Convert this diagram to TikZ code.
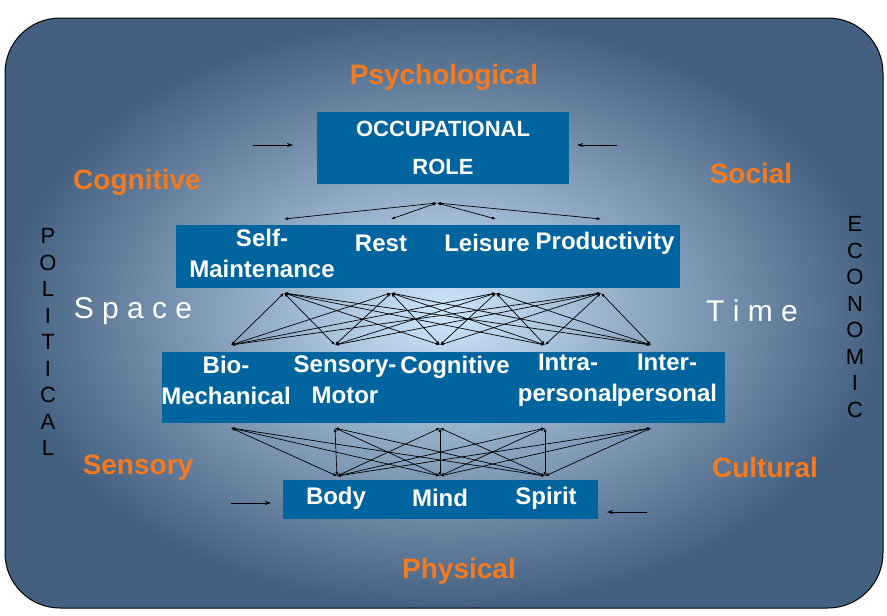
\documentclass[tikz,border=0pt]{standalone}
\usepackage{fontspec}
\setmainfont{Liberation Sans}
\usetikzlibrary{arrows.meta}
\definecolor{boxblue}{HTML}{00659E}
\definecolor{labelorange}{HTML}{F47A20}
\tikzset{
btext/.style={text=white, font=\bfseries\fontsize{24}{31}\selectfont, align=center, inner sep=0pt},
orange/.style={text=labelorange, font=\bfseries\fontsize{28}{30}\selectfont},
side/.style={font=\fontsize{22}{26.5}\selectfont, align=center},
link/.style={{Latex[length=4pt,width=3pt]}-{Latex[length=4pt,width=3pt]}, line width=0.7pt},
}
\begin{document}
\begin{tikzpicture}[x=1pt,y=-1pt]
  \useasboundingbox (0,0) rectangle (887,616);
  \shade[draw=black, line width=1pt, rounded corners=55pt, inner color={rgb,255:red,205;green,230;blue,252}, outer color={rgb,255:red,68;green,96;blue,128}] (5,18) rectangle (883,608);
  % boxes
  \fill[boxblue] (317,112) rectangle (569,184);
  \fill[boxblue] (176,225) rectangle (680,288);
  \fill[boxblue] (162,352) rectangle (725,423);
  \fill[boxblue] (283,480) rectangle (598,519);
  \node[btext, font=\bfseries\fontsize{22}{38}\selectfont] (role) at (443,148) {OCCUPATIONAL\\ROLE};
  \node[btext] (self) at (262,253) {Self-\\Maintenance};
  \node[btext] (rest) at (381,243) {Rest};
  \node[btext] (leis) at (487,243) {Leisure};
  \node[btext] (prod) at (605,243) {Productivity};
  \node[btext] (bio) at (226,380) {Bio-\\Mechanical};
  \node[btext] (sens) at (345,380) {Sensory-\\Motor};
  \node[btext] (cogn) at (455,367) {Cognitive};
  \node[btext] (intra) at (568,380) {Intra-\\personal};
  \node[btext] (inter) at (667,380) {Inter-\\personal};
  \node[btext] (body) at (336,498) {Body};
  \node[btext] (mind) at (440,498) {Mind};
  \node[btext] (spir) at (546,498) {Spirit};
  % surrounding labels
  \node[orange] (psy) at (444,77) {Psychological};
  \node[orange] (cog) at (137,182) {Cognitive};
  \node[orange] (soc) at (751,173) {Social};
  \node[orange] (sen) at (138,468) {Sensory};
  \node[orange] (cul) at (765,467) {Cultural};
  \node[orange] (phy) at (459,571) {Physical};
  \node[text=white, font=\fontsize{30}{32}\selectfont] (spc) at (133,311) {S p a c e};
  \node[text=white, font=\fontsize{30}{32}\selectfont] (tim) at (752,311) {T i m e};
  \node[side] (pol) at (48,342) {P\\O\\L\\I\\T\\I\\C\\A\\L};
  \node[side] (eco) at (855,317) {E\\C\\O\\N\\O\\M\\I\\C};
  % side arrows
  \coordinate (a1) at (253,145); \coordinate (a2) at (293,145);
  \coordinate (a3) at (617,145); \coordinate (a4) at (577,145);
  \coordinate (a5) at (231,503); \coordinate (a6) at (271,503);
  \coordinate (a7) at (647,512); \coordinate (a8) at (607,512);
  \foreach \s/\t in {a1/a2,a3/a4,a5/a6,a7/a8}
    \draw[-{Stealth[length=6pt,width=4pt]}, line width=0.9pt] (\s) -- (\t);
  % connector ends
  \coordinate (h) at (437,203);
  \foreach \x [count=\i] in {284,391,496,601} {
    \coordinate (t\i) at (\x,219);
    \coordinate (b\i) at (\x,293);
  }
  \foreach \x [count=\i] in {231,335,440,545,651} {
    \coordinate (u\i) at (\x,345);
    \coordinate (d\i) at (\x,428);
  }
  \foreach \x [count=\i] in {337,440,545}
    \coordinate (e\i) at (\x,476);
  \foreach \i in {1,...,4}
    \draw[link] (h) -- (t\i);
  \foreach \i in {1,...,4}
    \foreach \j in {1,...,5}
      \draw[link] (b\i) -- (u\j);
  \foreach \i in {1,...,5}
    \foreach \j in {1,...,3}
      \draw[link] (d\i) -- (e\j);
\end{tikzpicture}
\end{document}
